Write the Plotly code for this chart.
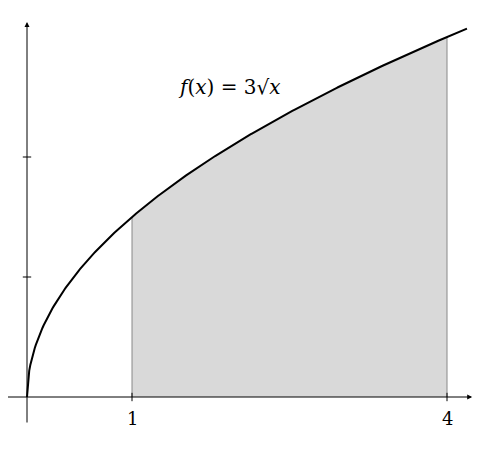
import numpy as np
import plotly.graph_objects as go

x_ticks = [1, 4]
x_tick_labels = ["1", "4"]
y_ticks = [2, 4]
a, b = 1, 4
x_max = 4.19

def f(x):
    return 3 * np.sqrt(x)

xs = np.linspace(0, x_max, 400)
xf = np.linspace(a, b, 200)

fig = go.Figure()
fig.add_trace(go.Scatter(x=list(xf), y=list(f(xf)), fill="tozeroy", fillcolor="#d9d9d9",
                         line=dict(color="rgba(0,0,0,0)"), mode="lines", hoverinfo="skip"))
for xv in [a, b]:
    fig.add_trace(go.Scatter(x=[xv, xv], y=[0, f(xv)], mode="lines",
                             line=dict(color="#888", width=1), hoverinfo="skip"))
fig.add_trace(go.Scatter(x=list(xs), y=list(f(xs)), mode="lines",
                         line=dict(color="black", width=2), hoverinfo="skip"))

shapes = []
for t in x_ticks:
    shapes.append(dict(type="line", x0=t, x1=t, y0=-0.07, y1=0.07, line=dict(color="black", width=1)))
for t in y_ticks:
    shapes.append(dict(type="line", x0=-0.04, x1=0.04, y0=t, y1=t, line=dict(color="black", width=1)))

ann = [
    dict(x=4.24, y=0, ax=-0.21, ay=0, xref="x", yref="y", axref="x", ayref="y",
         showarrow=True, arrowhead=2, arrowsize=1, arrowwidth=1, arrowcolor="black", text=""),
    dict(x=0, y=6.25, ax=0, ay=-0.45, xref="x", yref="y", axref="x", ayref="y",
         showarrow=True, arrowhead=2, arrowsize=1, arrowwidth=1, arrowcolor="black", text=""),
    dict(x=1.93, y=5.17, text="<i>f</i>(<i>x</i>) = 3√<i>x</i>", showarrow=False,
         font=dict(family="DejaVu Serif", size=20, color="black")),
]
for t, l in zip(x_ticks, x_tick_labels):
    ann.append(dict(x=t, y=-0.35, text=l, showarrow=False,
                    font=dict(family="DejaVu Serif", size=18, color="black")))

xl = -19 / 105
yt = 389 / 60
fig.update_layout(
    width=485, height=449, margin=dict(l=0, r=0, t=0, b=0),
    plot_bgcolor="white", paper_bgcolor="white", showlegend=False,
    xaxis=dict(range=[xl, xl + 485 / 105], visible=False),
    yaxis=dict(range=[yt - 449 / 60, yt], visible=False),
    shapes=shapes, annotations=ann,
)
fig.write_html("out.html")
